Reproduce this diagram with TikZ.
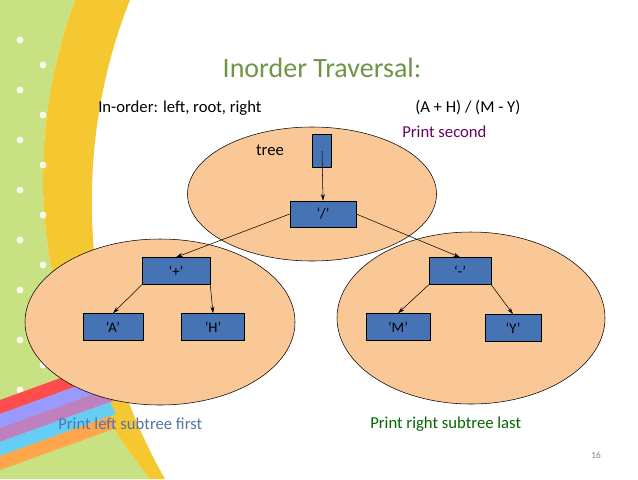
\documentclass[tikz,border=0pt]{standalone}
\usepackage{fontspec}
\setmainfont{Carlito}
\usetikzlibrary{positioning,arrows.meta,shapes.geometric}
\definecolor{blobfill}{RGB}{250,200,150}
\definecolor{boxfill}{RGB}{70,115,180}
\definecolor{titlegreen}{RGB}{110,150,70}
\definecolor{stripgreen}{RGB}{200,225,130}
\definecolor{bandyellow}{RGB}{245,200,50}
\begin{document}
\begin{tikzpicture}[x=0.75pt,y=-0.75pt,
    blob/.style={ellipse, draw, fill=blobfill, inner sep=0pt},
    cell/.style={rectangle, draw, fill=boxfill, font=\fontsize{11}{12}\selectfont, inner sep=0pt},
    note/.style={font=\fontsize{12.5}{14}\selectfont, inner sep=0pt},
    arrow/.style={-{Stealth[length=5pt,width=3pt]}, thin}
]
\useasboundingbox (0,0) rectangle (638,479);
\fill[white] (0,0) rectangle (638,479);

% slide background
\fill[stripgreen] (0,0) -- (75,0) .. controls (20,150) and (30,330) .. (150,479) -- (0,479) -- cycle;
\fill[bandyellow] (75,0) -- (130,0) .. controls (70,150) and (80,330) .. (165,479) -- (150,479) .. controls (30,330) and (20,150) .. (75,0) -- cycle;
\foreach \yy in {40,90,140,190,240,290,340,390} {
  \fill[white!85!stripgreen] (20,\yy) circle (3.5);
  \fill[white!85!stripgreen] (43,\yy+25) circle (3.5);
}
\foreach \cc/\dy in {red!70/0,blue!40/14,violet!50/28,cyan!60/42,orange!70/56} {
  \fill[\cc] (0,400+\dy) -- (110,360+\dy) -- (116,372+\dy) -- (0,414+\dy) -- cycle;
}

% title and notes
\node[font=\fontsize{21}{24}\selectfont, text=titlegreen] (title) at (322,68) {Inorder Traversal:};
\node[note, anchor=west] (rule) at (98,108) {In-order: left, root, right};
\node[note, anchor=west] (expr) at (415,108) {(A + H) / (M - Y)};
\node[note, anchor=west, text=violet!80!black] (second) at (402,132) {Print second};

% subtrees
\node[blob, minimum width=186.75pt, minimum height=100.5pt] (top) at (312,194) {};
\node[blob, minimum width=202.5pt, minimum height=124.5pt] (lefttree) at (160,322) {};
\node[blob, minimum width=201pt, minimum height=129pt] (righttree) at (471,318) {};

% nodes
\node[note] (treelbl) at (270,150) {tree};
\node[cell, minimum width=14.25pt, minimum height=24.75pt] (ptr) at (322,151) {};
\node[cell, minimum width=49.5pt, minimum height=19.5pt] (div) at (323,214) {`/'};
\node[cell, minimum width=51pt, minimum height=20.25pt] (plus) at (176,271) {`+'};
\node[cell, minimum width=46.5pt, minimum height=20.25pt] (minus) at (460,271) {`-'};
\node[cell, minimum width=45pt, minimum height=20.25pt] (nA) at (113,327) {`A'};
\node[cell, minimum width=47.25pt, minimum height=20.25pt] (nH) at (213,327) {`H'};
\node[cell, minimum width=48pt, minimum height=20.25pt] (nM) at (398,327) {`M'};
\node[cell, minimum width=42pt, minimum height=20.25pt] (nY) at (513,328) {`Y'};

% links
\draw[arrow] (ptr.center) -- (div.north);
\draw[arrow] (div.west) -- (plus.north);
\draw[arrow] (div.east) -- (minus.north);
\draw[arrow] (plus.south west) -- (nA.north);
\draw[arrow] (plus.south east) -- (nH.north);
\draw[arrow] (minus.south west) -- (nM.north);
\draw[arrow] (minus.south east) -- (nY.north);

% captions
\node[note, anchor=west, text=boxfill!80!gray] (firstcap) at (58,424) {Print left subtree first};
\node[note, anchor=west, text=green!40!black] (lastcap) at (370,424) {Print right subtree last};
\node[font=\fontsize{7}{8}\selectfont, text=gray] (page) at (596,455) {16};
\end{tikzpicture}
\end{document}
